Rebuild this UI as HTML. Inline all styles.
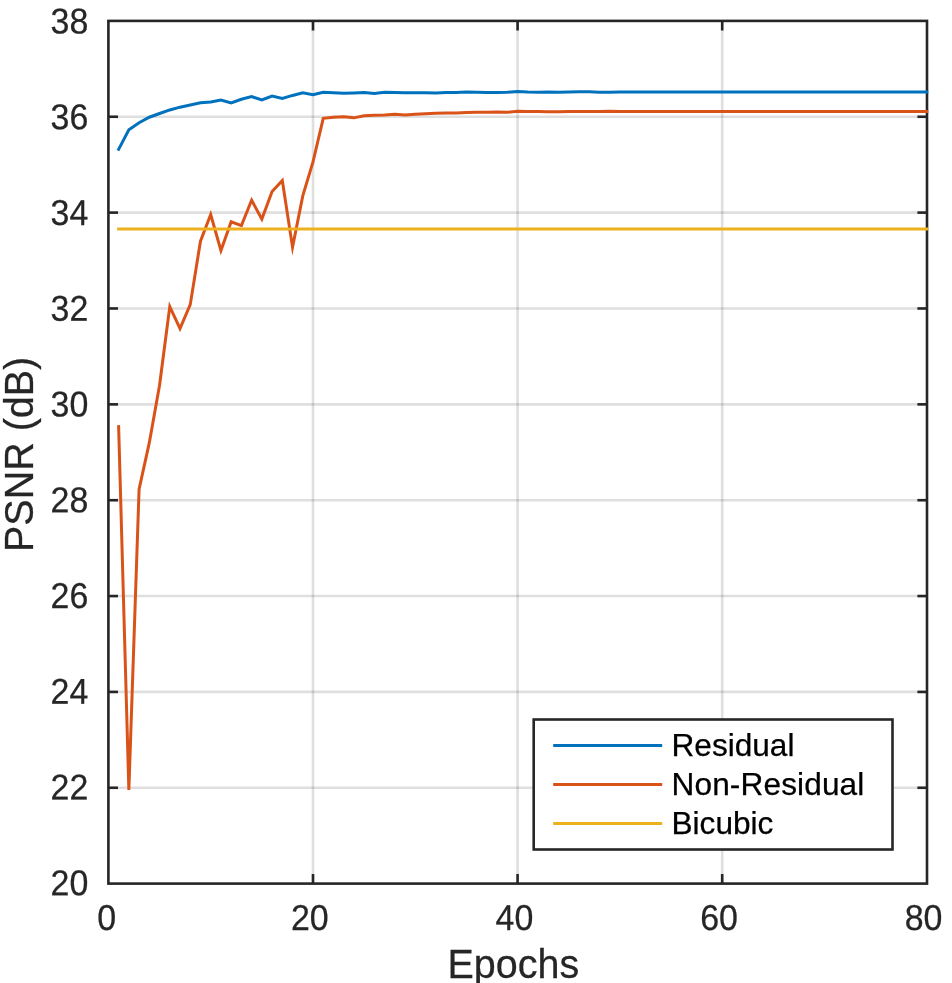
<!DOCTYPE html>
<html><head><meta charset="utf-8"><title>PSNR vs Epochs</title>
<style>
html,body{margin:0;padding:0;background:#fff;}
svg{display:block;}
text{font-family:"Liberation Sans",sans-serif;}
.tk{font-size:36px;fill:#262626;stroke:#262626;stroke-width:0.25px;}
.lb{font-size:39.6px;fill:#262626;stroke:#262626;stroke-width:0.25px;}
.lg{font-size:31.6px;fill:#000;stroke:#000;stroke-width:0.25px;}
</style></head><body>
<svg width="952" height="983" viewBox="0 0 952 983">
<rect x="0" y="0" width="952" height="983" fill="#fff"/>
<g stroke="#262626" stroke-opacity="0.15" stroke-width="2.6" fill="none"><line x1="313.00" y1="20.9" x2="313.00" y2="883.6"/><line x1="517.60" y1="20.9" x2="517.60" y2="883.6"/><line x1="722.20" y1="20.9" x2="722.20" y2="883.6"/><line x1="108.4" y1="787.78" x2="927.0" y2="787.78"/><line x1="108.4" y1="691.92" x2="927.0" y2="691.92"/><line x1="108.4" y1="596.06" x2="927.0" y2="596.06"/><line x1="108.4" y1="500.20" x2="927.0" y2="500.20"/><line x1="108.4" y1="404.34" x2="927.0" y2="404.34"/><line x1="108.4" y1="308.48" x2="927.0" y2="308.48"/><line x1="108.4" y1="212.62" x2="927.0" y2="212.62"/><line x1="108.4" y1="116.76" x2="927.0" y2="116.76"/></g>
<g stroke="#262626" stroke-width="2.6" fill="none"><line x1="313.00" y1="883.6" x2="313.00" y2="874.0"/><line x1="313.00" y1="20.9" x2="313.00" y2="30.5"/><line x1="517.60" y1="883.6" x2="517.60" y2="874.0"/><line x1="517.60" y1="20.9" x2="517.60" y2="30.5"/><line x1="722.20" y1="883.6" x2="722.20" y2="874.0"/><line x1="722.20" y1="20.9" x2="722.20" y2="30.5"/><line x1="108.4" y1="787.78" x2="118.0" y2="787.78"/><line x1="927.0" y1="787.78" x2="917.4" y2="787.78"/><line x1="108.4" y1="691.92" x2="118.0" y2="691.92"/><line x1="927.0" y1="691.92" x2="917.4" y2="691.92"/><line x1="108.4" y1="596.06" x2="118.0" y2="596.06"/><line x1="927.0" y1="596.06" x2="917.4" y2="596.06"/><line x1="108.4" y1="500.20" x2="118.0" y2="500.20"/><line x1="927.0" y1="500.20" x2="917.4" y2="500.20"/><line x1="108.4" y1="404.34" x2="118.0" y2="404.34"/><line x1="927.0" y1="404.34" x2="917.4" y2="404.34"/><line x1="108.4" y1="308.48" x2="118.0" y2="308.48"/><line x1="927.0" y1="308.48" x2="917.4" y2="308.48"/><line x1="108.4" y1="212.62" x2="118.0" y2="212.62"/><line x1="927.0" y1="212.62" x2="917.4" y2="212.62"/><line x1="108.4" y1="116.76" x2="118.0" y2="116.76"/><line x1="927.0" y1="116.76" x2="917.4" y2="116.76"/></g>
<rect x="108.4" y="20.9" width="818.60" height="862.70" fill="none" stroke="#262626" stroke-width="2.6"/>
<polyline fill="none" stroke="#0072BD" stroke-width="3.0" stroke-linecap="square" stroke-linejoin="miter" stroke-miterlimit="10" points="118.63,149.35 128.86,129.70 139.09,122.70 149.32,117.24 159.55,113.50 169.78,109.95 180.01,107.17 190.24,105.02 200.47,102.86 210.70,101.90 220.93,99.98 231.16,102.86 241.39,99.27 251.62,96.63 261.85,99.98 272.08,96.15 282.31,98.55 292.54,95.43 302.77,92.79 313.00,94.66 323.23,92.31 333.46,92.81 343.69,93.32 353.92,92.98 364.15,92.48 374.38,93.49 384.61,92.31 394.84,92.48 405.07,92.65 415.30,92.65 425.53,92.81 435.76,92.98 445.99,92.48 456.22,92.56 466.45,91.98 476.68,92.31 486.91,92.48 497.14,92.48 507.37,92.31 517.60,91.47 527.83,91.98 538.06,92.14 548.29,91.98 558.52,92.14 568.75,91.98 578.98,91.81 589.21,91.81 599.44,92.14 609.67,92.14 619.90,91.98 630.13,91.98 640.36,91.98 650.59,91.98 660.82,91.98 671.05,91.98 681.28,91.98 691.51,91.98 701.74,91.98 711.97,91.98 722.20,91.98 732.43,91.98 742.66,91.98 752.89,91.98 763.12,91.98 773.35,91.98 783.58,91.98 793.81,91.98 804.04,91.98 814.27,91.98 824.50,91.98 834.73,91.98 844.96,91.98 855.19,91.98 865.42,91.98 875.65,91.98 885.88,91.98 896.11,91.98 906.34,91.98 916.57,91.98 926.80,91.98"/>
<polyline fill="none" stroke="#D95319" stroke-width="3.0" stroke-linecap="square" stroke-linejoin="miter" stroke-miterlimit="10" points="118.63,426.63 128.86,789.94 139.09,489.18 149.32,442.68 159.55,385.17 169.78,306.56 180.01,328.61 190.24,304.65 200.47,241.14 210.70,214.54 220.93,250.48 231.16,221.73 241.39,225.56 251.62,200.16 261.85,219.09 272.08,191.53 282.31,180.51 292.54,247.13 302.77,195.84 313.00,161.81 323.23,118.36 333.46,117.35 343.69,116.85 353.92,117.86 364.15,115.84 374.38,115.34 384.61,115.00 394.84,114.33 405.07,115.00 415.30,114.16 425.53,113.65 435.76,113.32 445.99,112.98 456.22,113.07 466.45,112.48 476.68,112.31 486.91,112.14 497.14,111.98 507.37,112.31 517.60,111.30 527.83,111.47 538.06,111.47 548.29,111.64 558.52,111.64 568.75,111.47 578.98,111.47 589.21,111.47 599.44,111.47 609.67,111.30 619.90,111.47 630.13,111.47 640.36,111.47 650.59,111.47 660.82,111.47 671.05,111.47 681.28,111.47 691.51,111.47 701.74,111.47 711.97,111.47 722.20,111.47 732.43,111.47 742.66,111.47 752.89,111.47 763.12,111.47 773.35,111.47 783.58,111.47 793.81,111.47 804.04,111.47 814.27,111.47 824.50,111.47 834.73,111.47 844.96,111.47 855.19,111.47 865.42,111.47 875.65,111.47 885.88,111.47 896.11,111.47 906.34,111.47 916.57,111.47 926.80,111.47"/>
<line x1="118.63" y1="228.92" x2="926.80" y2="228.92" stroke="#EDB120" stroke-width="3.0" stroke-linecap="square"/>
<text class="tk" transform="translate(106.60,930.1) rotate(0.03) scale(0.942,1.0)" text-anchor="middle">0</text><text class="tk" transform="translate(309.80,930.1) rotate(0.03) scale(0.942,1.0)" text-anchor="middle">20</text><text class="tk" transform="translate(514.40,930.1) rotate(0.03) scale(0.942,1.0)" text-anchor="middle">40</text><text class="tk" transform="translate(719.00,930.1) rotate(0.03) scale(0.942,1.0)" text-anchor="middle">60</text><text class="tk" transform="translate(923.60,930.1) rotate(0.03) scale(0.942,1.0)" text-anchor="middle">80</text><text class="tk" transform="translate(88.3,895.19) rotate(0.03) scale(0.942,1.0)" text-anchor="end">20</text><text class="tk" transform="translate(88.3,799.44) rotate(0.03) scale(0.942,1.0)" text-anchor="end">22</text><text class="tk" transform="translate(88.3,703.69) rotate(0.03) scale(0.942,1.0)" text-anchor="end">24</text><text class="tk" transform="translate(88.3,607.94) rotate(0.03) scale(0.942,1.0)" text-anchor="end">26</text><text class="tk" transform="translate(88.3,512.19) rotate(0.03) scale(0.942,1.0)" text-anchor="end">28</text><text class="tk" transform="translate(88.3,416.45) rotate(0.03) scale(0.942,1.0)" text-anchor="end">30</text><text class="tk" transform="translate(88.3,320.70) rotate(0.03) scale(0.942,1.0)" text-anchor="end">32</text><text class="tk" transform="translate(88.3,224.95) rotate(0.03) scale(0.942,1.0)" text-anchor="end">34</text><text class="tk" transform="translate(88.3,129.20) rotate(0.03) scale(0.942,1.0)" text-anchor="end">36</text><text class="tk" transform="translate(88.3,33.45) rotate(0.03) scale(0.942,1.0)" text-anchor="end">38</text>
<text class="lb" transform="translate(513.3,978) scale(0.997,1.04)" text-anchor="middle">Epochs</text>
<text class="lb" transform="translate(33,454.4) rotate(-90) scale(0.997,1.04)" text-anchor="middle">PSNR (dB)</text>
<rect x="533.7" y="719.5" width="358.8" height="130" fill="#fff" stroke="#262626" stroke-width="2.6"/>
<line x1="553.2" y1="745.50" x2="662.2" y2="745.50" stroke="#0072BD" stroke-width="3"/><text class="lg" x="671.5" y="756.30">Residual</text>
<line x1="553.2" y1="784.50" x2="662.2" y2="784.50" stroke="#D95319" stroke-width="3"/><text class="lg" x="671.5" y="795.30" letter-spacing="0.13">Non-Residual</text>
<line x1="553.2" y1="823.50" x2="662.2" y2="823.50" stroke="#EDB120" stroke-width="3"/><text class="lg" x="671.5" y="834.30">Bicubic</text>
</svg>
</body></html>
